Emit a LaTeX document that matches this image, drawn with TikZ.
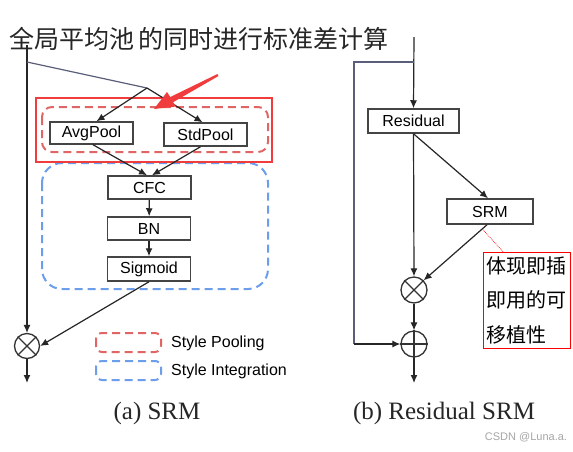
\documentclass[tikz,border=0pt]{standalone}
\usepackage{fontspec}
\setmainfont{Liberation Serif}
\setsansfont{Liberation Sans}
\newfontfamily\cjk{Noto Sans CJK SC}
\usetikzlibrary{arrows.meta}
\definecolor{boxline}{HTML}{444444}
\definecolor{skipline}{HTML}{5A5E78}
\definecolor{poolred}{HTML}{E06666}
\definecolor{integblue}{HTML}{6D9EEB}
\definecolor{markred}{HTML}{F03C3C}
\begin{document}
\begin{tikzpicture}[x=1pt,y=-1pt,
  blk/.style={draw=boxline, line width=1.5pt, minimum width=83pt, minimum height=23pt, inner sep=0pt, fill=white, font=\sffamily\fontsize{16}{16}\selectfont},
  arr/.style={-{Latex[length=8pt,width=7pt]}, line width=1.2pt, draw=black!85},
  ln/.style={line width=1.2pt, draw=black!85},
  opnode/.style={circle, draw=black!80, line width=1.3pt, minimum size=25pt, inner sep=0pt},
  dashbox/.style={dashed, dash pattern=on 8pt off 5pt, line width=2pt},
  lbl/.style={font=\sffamily\fontsize{16}{16}\selectfont, anchor=west, inner sep=0pt},
  captxt/.style={font=\fontsize{25}{25}\selectfont, inner sep=0pt, text=black!85}
]
\useasboundingbox[fill=white] (0,0) rectangle (573,451);

% title
\node[anchor=west, inner sep=0pt, font=\cjk\fontsize{25}{25}\selectfont, text=black!85] (title) at (9,39) {全局平均池\hspace{4pt}的同时进行标准差计算};

% ---------- (a) SRM ----------
\draw[dashbox, draw=poolred, rounded corners=10pt] (42,107) rectangle (268,152);
\draw[dashbox, draw=integblue, rounded corners=20pt] (42,163) rectangle (268,289);
\draw[line width=2.8pt, draw=markred] (36,98) rectangle (272,162);

\node[blk, minimum height=22pt] (avg) at (91.5,133) {AvgPool};
\node[blk] (std) at (205.5,134.5) {StdPool};
\node[blk] (cfc) at (149.5,187.5) {CFC};
\node[blk] (bn) at (149,228.5) {BN};
\node[blk, minimum height=24pt] (sig) at (149,269) {Sigmoid};
\node[opnode] (mulA) at (27,346) {};
\draw[line width=1.3pt, black!80] (mulA.north east) -- (mulA.south west) (mulA.north west) -- (mulA.south east);

\coordinate (topA) at (27,45);
\coordinate (brA) at (27,62);
\coordinate (split) at (147,88);
\coordinate (outA) at (27,383);

\draw[arr] (topA) -- (mulA.north);
\draw[ln, draw=skipline] (brA) -- (split);
\draw[arr] (split) -- ([xshift=5pt]avg.north);
\draw[arr] (split) -- ([xshift=-3pt]std.north);
\draw[arr] ([xshift=1.5pt]avg.south) -- ([xshift=-2.5pt]cfc.north);
\draw[arr] ([xshift=-5pt]std.south) -- ([xshift=2.5pt]cfc.north);
\draw[arr] (cfc) -- (bn);
\draw[arr] (bn) -- (sig);
\draw[arr] (sig.south) -- (mulA.east);
\draw[arr] (mulA.south) -- (outA);

% big red pointer arrow
\fill[markred] (154,109) -- (176,106.5) -- (173.1,102.2) -- (218.5,76) -- (217.5,74) -- (170.3,97.0) -- (167,92) -- cycle;

% legend
\draw[dashbox, draw=poolred, rounded corners=6pt] (96,333) rectangle (161,352);
\draw[dashbox, draw=integblue, rounded corners=6pt] (96,361) rectangle (161,380);
\node[lbl] (lgA) at (171,343) {Style Pooling};
\node[lbl] (lgB) at (171,371) {Style Integration};

\node[captxt] (capA) at (157,413) {(a) SRM};

% ---------- (b) Residual SRM ----------
\node[blk, minimum width=91pt, minimum height=24pt] (res) at (413.5,121) {Residual};
\node[blk, minimum width=86pt, minimum height=25pt] (srm) at (490,211.5) {SRM};
\node[opnode, minimum size=26pt] (mulB) at (414,290) {};
\draw[line width=1.3pt, black!80] (mulB.north east) -- (mulB.south west) (mulB.north west) -- (mulB.south east);
\node[opnode, minimum size=26pt] (addB) at (414,344) {};
\draw[line width=1.3pt, black!80] (addB.north) -- (addB.south) (addB.west) -- (addB.east);

\coordinate (topB) at (414,37);
\coordinate (brB) at (414,62);
\coordinate (skA) at (354,62);
\coordinate (skB) at (354,344);
\coordinate (outB) at (414,383);

\draw[arr] (topB) -- (res.north);
\draw[ln, draw=skipline] (brB) -- (skA) -- (skB);
\draw[arr] (skB) -- (addB.west);
\draw[arr] (res.south) -- (mulB.north);
\draw[arr] (res.south) -- ([xshift=-2pt]srm.north);
\draw[arr] ([xshift=-3pt]srm.south) -- (mulB.north east);
\draw[arr] (mulB.south) -- (addB.north);
\draw[arr] (addB.south) -- (outB);

% annotation
\node[draw=red, line width=0.8pt, anchor=north west, minimum width=87pt, minimum height=96pt, text width=81pt, inner xsep=3pt, inner ysep=0pt, align=left, font=\cjk\fontsize{20}{34.5}\selectfont] (ann) at (483,252) {体现即插\\即用的可\\移植性};
\draw[red, line width=0.7pt, densely dotted] ([xshift=-7pt,yshift=-5pt]srm.south) -- ([xshift=-23.5pt]ann.north);

\node[captxt] (capB) at (444,413) {(b) Residual SRM};

\node[font=\sffamily\fontsize{11}{11}\selectfont, text=black!35, inner sep=0pt] (wm) at (526,437) {CSDN @Luna.a.};
\end{tikzpicture}
\end{document}
